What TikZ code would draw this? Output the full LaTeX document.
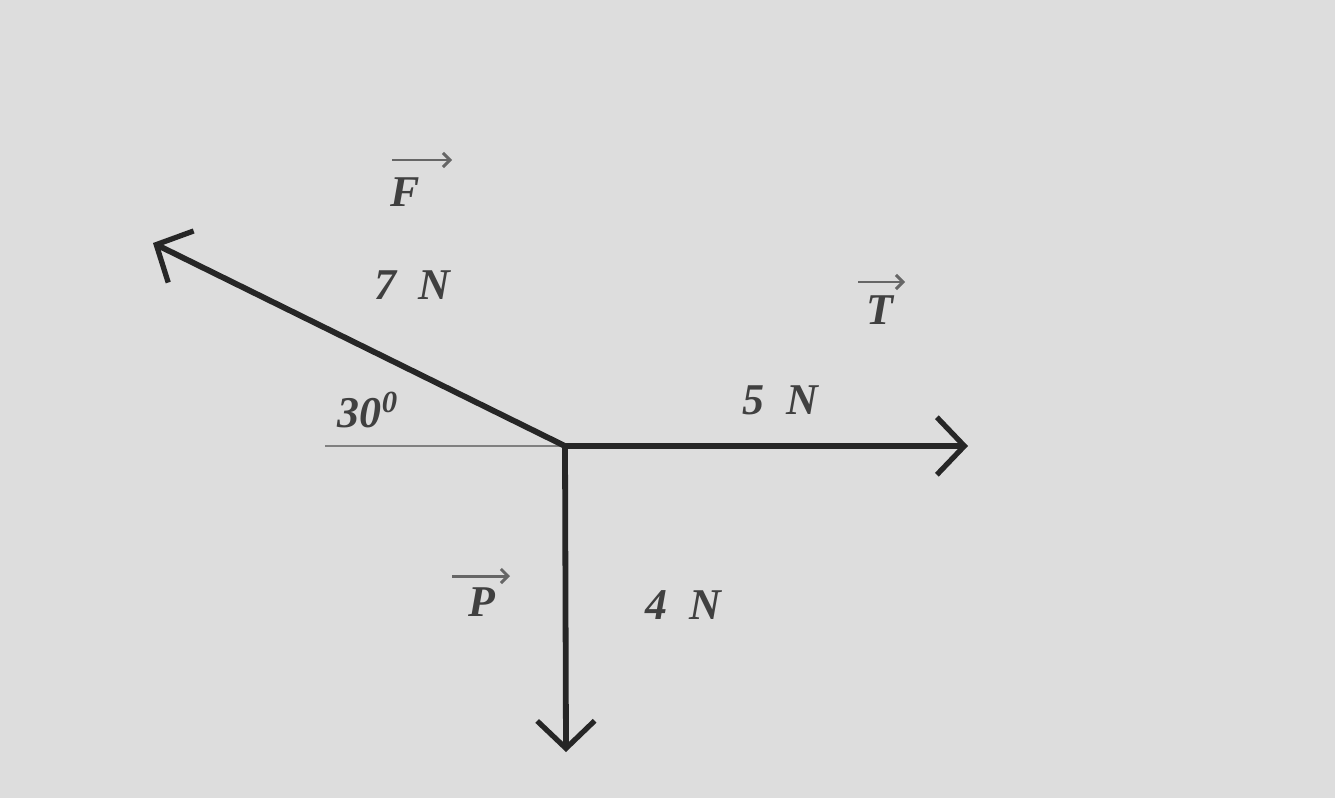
\documentclass[tikz,border=0pt]{standalone}
\usepackage{fontspec}
\setmainfont{Liberation Serif}
\usetikzlibrary{arrows.meta}
\tikzset{force/.style = {line width=3.3pt, black!85, -{Straight Barb[length=0.55cm, width=1.15cm, line width=3pt]}},
  vecarrow/.style = {line width=1.7pt, black!60, -{Straight Barb[length=4pt, width=8pt]}},
  lbl/.style = {font=\fontsize{25}{30}\selectfont\bfseries\itshape, text=black!75, inner sep=0}}

\begin{document}
\begin{tikzpicture}[x=0.02cm, y=-0.02cm]
    \fill [gray!27] (0, 0) rectangle (1335, 798);
    \useasboundingbox (0, 0) rectangle (1335, 798);

    \coordinate (o) at (565, 446);
    \coordinate (f) at (153, 243);
    \coordinate (t) at (968, 446);
    \coordinate (p) at (566, 752);
    \coordinate (h) at (325, 446);

    \draw [line width=1.6pt, gray] (h) -- (o);
    \draw [force] (o) -- (f);
    \draw [force] (o) -- (t);
    \draw [force] (o) -- (p);

    \node [lbl] (fname) at (405, 192) {F};
    \node [lbl] (fval) at (412, 285) {7\ \ N};
    \node [lbl] (angle) at (368, 410) {30\textsuperscript{0}};
    \node [lbl] (tname) at (880, 310) {T};
    \node [lbl] (tval) at (780, 400) {5\ \ N};
    \node [lbl] (pname) at (482, 602) {P};
    \node [lbl] (pval) at (683, 605) {4\ \ N};

    \draw [vecarrow] ([shift={(-13, -32)}] fname.center) -- ([shift={(47, -32)}] fname.center);
    \draw [vecarrow] ([shift={(-22, -28)}] tname.center) -- ([shift={(25, -28)}] tname.center);
    \draw [vecarrow] ([shift={(-30, -26)}] pname.center) -- ([shift={(28, -26)}] pname.center);
\end{tikzpicture}
\end{document}
